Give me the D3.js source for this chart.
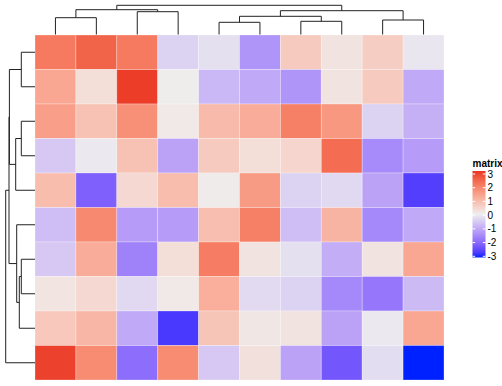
<!DOCTYPE html>
<html><head><meta charset="utf-8">
<script src="https://cdn.jsdelivr.net/npm/d3@7"></script>
<style>body{margin:0;background:#fff}svg{display:block}</style>
</head><body>
<svg id="c" width="502" height="386"></svg>
<script>
// Matrix values in display (clustered) order
const rows = ["r1","r2","r3","r4","r5","r6","r7","r8","r9","r10"];
const cols = ["c1","c2","c3","c4","c5","c6","c7","c8","c9","c10"];
const row1  = [2.05, 2.4, 2.05, -0.4, -0.2, -1.3, 0.65, 0.2, 0.6, -0.12];
const row2  = [1.3, 0.3, 2.9, 0.03, -0.8, -1.0, -1.3, 0.2, 0.65, -1.0];
const row3  = [1.45, 0.8, 1.7, 0.1, 0.95, 1.2, 1.95, 1.55, -0.4, -0.9];
const row4  = [-0.55, -0.08, 0.8, -1.1, 0.65, 0.3, 0.45, 2.25, -1.45, -1.2];
const row5  = [0.9, -2.1, 0.4, 0.9, 0.05, 1.5, -0.4, -0.3, -1.1, -2.6];
const row6  = [-0.7, 1.8, -1.2, -1.2, 0.85, 1.95, -0.7, 1.05, -1.5, -1.0];
const row7  = [-0.55, 1.2, -1.6, 0.3, 2.0, 0.2, -0.2, -0.95, 0.2, 1.3];
const row8  = [0.18, 0.4, -0.3, 0.1, 1.15, -0.28, -0.4, -1.5, -1.75, -0.75];
const row9  = [0.7, 1.0, -1.0, -2.7, 0.75, 0.12, 0.2, -1.1, -0.08, 1.3];
const row10 = [2.85, 1.75, -1.9, 1.75, -0.55, 0.25, -1.1, -2.25, -0.25, -3.0];
const legendTicks = [3, 2, 1, 0, -1, -2, -3];
const legendTitle = "matrix";
// Dendrograms: merge heights, leaves are display indices
const colDend = {h:29.2, children:[
  {h:24.8, children:[{h:16.8, children:[0,1]},{h:22.8, children:[2,3]}]},
  {h:23.8, children:[{h:18.2, children:[{h:12.2, children:[4,5]},{h:13.2, children:[6,7]}]},{h:14.5, children:[8,9]}]}
]};
const rowDend = {h:29.3, children:[
  {h:26.0, children:[
    {h:25.6, children:[{h:13.7, children:[0,1]},{h:19.3, children:[{h:13.7, children:[2,3]},4]}]},
    {h:18.3, children:[5,{h:15.7, children:[{h:13.7, children:[6,7]},8]}]}
  ]},
  9
]};

const matrix = [row1,row2,row3,row4,row5,row6,row7,row8,row9,row10];
const svg = d3.select("#c");
const L = 35, R = 444, T = 35, B = 380;
const x = d3.scaleBand().domain(d3.range(cols.length)).range([L, R]);
const y = d3.scaleBand().domain(d3.range(rows.length)).range([T, B]);
const color = d3.scaleLinear().domain([-3, 0, 3])
  .range(["#0021FF", "#EEEEEE", "#EA3323"]).interpolate(d3.interpolateLab).clamp(true);

const cells = [];
matrix.forEach((r, i) => r.forEach((v, j) => cells.push({i, j, v})));
svg.append("g").selectAll("rect").data(cells).join("rect")
  .attr("x", d => x(d.j)).attr("y", d => y(d.i))
  .attr("width", x.bandwidth()).attr("height", y.bandwidth())
  .attr("fill", d => color(d.v))
  .attr("stroke", "rgba(255,255,255,0.35)").attr("stroke-width", 0.8);

// dendrogram layout
function layout(node, posOf, segs) {
  if (typeof node === "number") return {p: posOf(node), h: 0};
  const ch = node.children.map(c => layout(c, posOf, segs));
  const p = d3.mean(ch, c => c.p);
  segs.push({a: ch[0].p, b: ch[ch.length-1].p, h1: node.h, h2: node.h});
  ch.forEach(c => segs.push({a: c.p, b: c.p, h1: node.h, h2: c.h}));
  return {p, h: node.h};
}
const colSegs = [];
layout(colDend, i => x(i) + x.bandwidth()/2, colSegs);
const hy = d3.scaleLinear().domain([0, colDend.h]).range([34.5, 5.3]);
svg.append("g").selectAll("line").data(colSegs).join("line")
  .attr("x1", d => d.a).attr("x2", d => d.b)
  .attr("y1", d => hy(d.h1)).attr("y2", d => hy(d.h2))
  .attr("stroke", "#222").attr("stroke-width", 1);

const rowSegs = [];
layout(rowDend, i => y(i) + y.bandwidth()/2, rowSegs);
const hx = d3.scaleLinear().domain([0, rowDend.h]).range([35, 5.7]);
svg.append("g").selectAll("line").data(rowSegs).join("line")
  .attr("y1", d => d.a).attr("y2", d => d.b)
  .attr("x1", d => hx(d.h1)).attr("x2", d => hx(d.h2))
  .attr("stroke", "#222").attr("stroke-width", 1);

// legend
const lg = svg.append("g");
const grad = svg.append("defs").append("linearGradient").attr("id", "g")
  .attr("x1", 0).attr("x2", 0).attr("y1", 0).attr("y2", 1);
d3.range(0, 1.0001, 0.05).forEach(t => {
  grad.append("stop").attr("offset", t).attr("stop-color", color(3 - 6 * t));
});
const ly = d3.scaleLinear().domain([3, -3]).range([174, 256.3]);
lg.append("text").attr("x", 472.5).attr("y", 167).text(legendTitle)
  .attr("font-family", "Liberation Sans, Arial, sans-serif").attr("font-size", 10).attr("font-weight", "bold");
lg.append("rect").attr("x", 472.5).attr("y", 171).attr("width", 13).attr("height", 86.5).attr("fill", "url(#g)");
lg.selectAll("line.tl").data(legendTicks).join("line").attr("class", "tl")
  .attr("x1", 472.5).attr("x2", 475.2).attr("y1", d => ly(d)).attr("y2", d => ly(d))
  .attr("stroke", "white").attr("stroke-width", 1);
lg.selectAll("line.tr").data(legendTicks).join("line").attr("class", "tr")
  .attr("x1", 482.8).attr("x2", 485.5).attr("y1", d => ly(d)).attr("y2", d => ly(d))
  .attr("stroke", "white").attr("stroke-width", 1);
lg.selectAll("text.tk").data(legendTicks).join("text").attr("class", "tk")
  .attr("x", 487.5).attr("y", d => ly(d)).attr("dy", "0.35em").text(d => d)
  .attr("font-family", "Liberation Sans, Arial, sans-serif").attr("font-size", 10);
</script>
</body></html>
